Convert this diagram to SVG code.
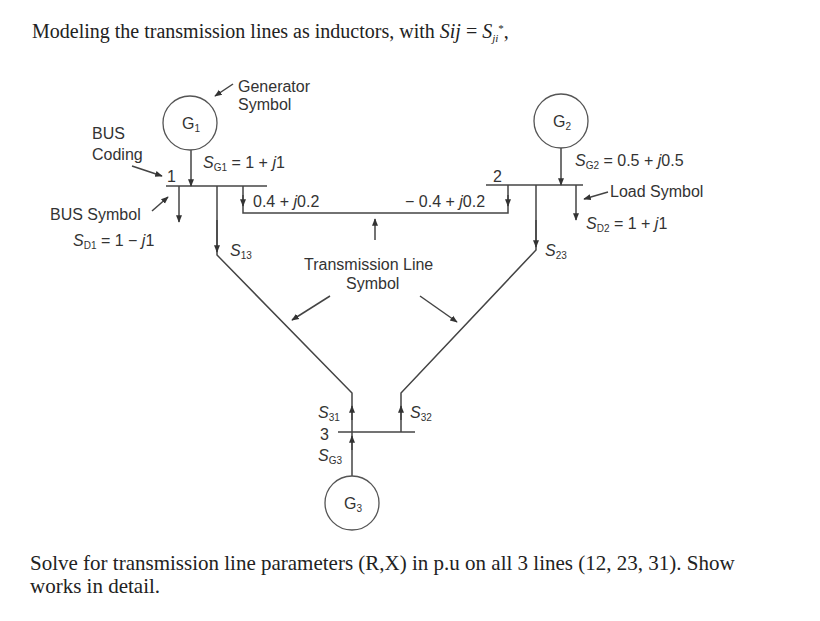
<svg xmlns="http://www.w3.org/2000/svg" width="820" height="621" viewBox="0 0 820 621">
<defs><marker id="a" viewBox="0 0 10 10" refX="9" refY="5" markerWidth="5" markerHeight="7" orient="auto"><path d="M0,1 L10,5 L0,9 z" fill="#333"/></marker></defs>
<style>
.l{stroke:#444;stroke-width:1.5;fill:none}
.c{stroke:#555;stroke-width:1.3;fill:#fff}
.t{font-family:"Liberation Sans",Arial,sans-serif;font-size:16px;fill:#333}
.i{font-style:italic}
.s{font-size:10px}
.ser{font-family:"Liberation Serif","Times New Roman",serif;fill:#222}
</style>
<rect width="820" height="621" fill="#fff"/>
<text class="ser" x="32" y="38" font-size="20">Modeling the transmission lines as inductors, with <tspan font-style="italic">Sij</tspan> = <tspan font-style="italic">S</tspan><tspan font-size="11" dy="4" font-style="italic">ji</tspan><tspan font-size="11" dy="-10">*</tspan><tspan dy="6">,</tspan></text>
<g id="connectors">
<line class="l" x1="166" y1="186" x2="267" y2="186"/>
<line class="l" x1="486" y1="185" x2="583" y2="185"/>
<line class="l" x1="338" y1="432" x2="415" y2="432"/>
<line class="l" x1="191" y1="150" x2="191" y2="186" marker-end="url(#a)"/>
<line class="l" x1="179" y1="186" x2="179" y2="222" marker-end="url(#a)"/>
<line class="l" x1="561" y1="148" x2="561" y2="185" marker-end="url(#a)"/>
<line class="l" x1="576" y1="185" x2="576" y2="220" marker-end="url(#a)"/>
<polyline class="l" points="217,186 217,255 352,393 352,432"/>
<line class="l" x1="217" y1="220" x2="217" y2="252" marker-end="url(#a)"/>
<polyline class="l" points="536,185 536,250 401,393 401,432"/>
<line class="l" x1="536" y1="220" x2="536" y2="247" marker-end="url(#a)"/>
<polyline class="l" points="243,186 243,213 508,213 508,185"/>
<line class="l" x1="243" y1="195" x2="243" y2="206" marker-end="url(#a)"/>
<line class="l" x1="508" y1="195" x2="508" y2="206" marker-end="url(#a)"/>
<line class="l" x1="352" y1="420" x2="352" y2="406" marker-end="url(#a)"/>
<line class="l" x1="401" y1="420" x2="401" y2="406" marker-end="url(#a)"/>
<line class="l" x1="352" y1="476" x2="352" y2="432"/>
<line class="l" x1="352" y1="450" x2="352" y2="436" marker-end="url(#a)"/>
<line class="l" x1="375" y1="240" x2="375" y2="219" marker-end="url(#a)"/>
<line class="l" x1="330" y1="296" x2="292" y2="320" marker-end="url(#a)"/>
<line class="l" x1="420" y1="296" x2="457" y2="322" marker-end="url(#a)"/>
<line class="l" x1="233" y1="84" x2="215" y2="96" marker-end="url(#a)"/>
<line class="l" x1="132" y1="166" x2="162" y2="176" marker-end="url(#a)"/>
<line class="l" x1="152" y1="211" x2="168" y2="197" marker-end="url(#a)"/>
<line class="l" x1="608" y1="192" x2="584" y2="199" marker-end="url(#a)"/>
</g>
<g id="G1"><circle class="c" cx="190" cy="123" r="27"/><text class="t" x="182" y="129" font-size="14">G<tspan class="s" dy="3">1</tspan></text></g>
<g id="G2"><circle class="c" cx="561" cy="121" r="27"/><text class="t" x="553" y="127" font-size="14">G<tspan class="s" dy="3">2</tspan></text></g>
<g id="G3"><circle class="c" cx="352" cy="503" r="27"/><text class="t" x="344" y="509" font-size="14">G<tspan class="s" dy="3">3</tspan></text></g>
<g id="labels" class="t">
<text x="238" y="92">Generator</text><text x="238" y="110">Symbol</text>
<text x="92" y="139">BUS</text><text x="92" y="160">Coding</text>
<text x="167" y="182">1</text>
<text x="50" y="220">BUS Symbol</text>
<text x="203" y="168"><tspan class="i">S</tspan><tspan class="s" dy="3">G1</tspan><tspan dy="-3"> = 1 + </tspan><tspan class="i">j</tspan>1</text>
<text x="73" y="246"><tspan class="i">S</tspan><tspan class="s" dy="3">D1</tspan><tspan dy="-3"> = 1 − </tspan><tspan class="i">j</tspan>1</text>
<text x="253" y="207">0.4 + <tspan class="i">j</tspan>0.2</text>
<text x="405" y="207">− 0.4 + <tspan class="i">j</tspan>0.2</text>
<text x="230" y="256"><tspan class="i">S</tspan><tspan class="s" dy="3">13</tspan></text>
<text x="493" y="182">2</text>
<text x="575" y="166"><tspan class="i">S</tspan><tspan class="s" dy="3">G2</tspan><tspan dy="-3"> = 0.5 + </tspan><tspan class="i">j</tspan>0.5</text>
<text x="610" y="197">Load Symbol</text>
<text x="586" y="229"><tspan class="i">S</tspan><tspan class="s" dy="3">D2</tspan><tspan dy="-3"> = 1 + </tspan><tspan class="i">j</tspan>1</text>
<text x="545" y="256"><tspan class="i">S</tspan><tspan class="s" dy="3">23</tspan></text>
<text x="304" y="270">Transmission Line</text>
<text x="346" y="289">Symbol</text>
<text x="318" y="418"><tspan class="i">S</tspan><tspan class="s" dy="3">31</tspan></text>
<text x="410" y="418"><tspan class="i">S</tspan><tspan class="s" dy="3">32</tspan></text>
<text x="320" y="440">3</text>
<text x="318" y="461"><tspan class="i">S</tspan><tspan class="s" dy="3">G3</tspan></text>
</g>
<text class="ser" x="30" y="570" font-size="21">Solve for transmission line parameters (R,X) in p.u on all 3 lines (12, 23, 31). Show</text>
<text class="ser" x="30" y="593" font-size="21">works in detail.</text>
</svg>
